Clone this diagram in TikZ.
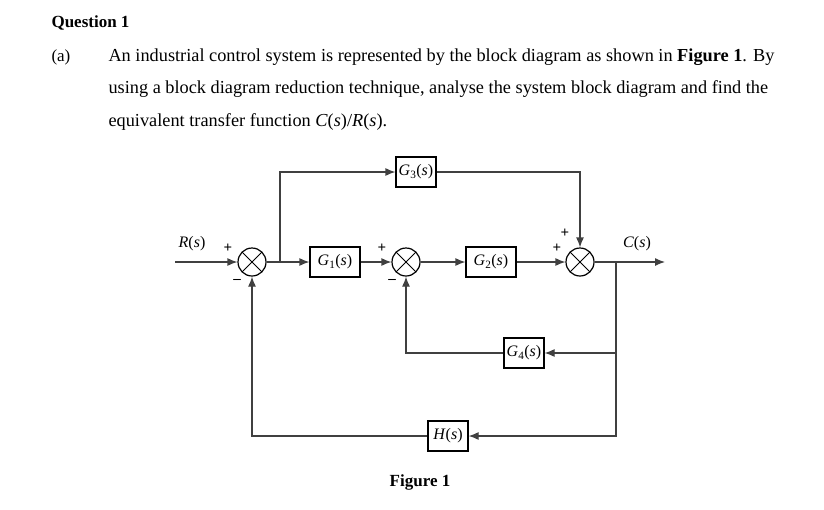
\documentclass[tikz,border=0pt]{standalone}
\usepackage{fontspec}
\setmainfont{Liberation Serif}
\usetikzlibrary{arrows.meta}
\begin{document}
\begin{tikzpicture}[x=1pt,y=-1pt,
  blk/.style={draw,line width=1.2pt,minimum width=40pt,minimum height=30pt,inner sep=1pt,font=\fontsize{16}{16}\selectfont},
  sm/.style={draw,circle,line width=1.2pt,minimum size=28pt,inner sep=0pt,path picture={\draw[line width=1pt] (path picture bounding box.south west)--(path picture bounding box.north east) (path picture bounding box.north west)--(path picture bounding box.south east);}},
  ln/.style={line width=1.2pt,draw=black!75},
  ar/.style={ln,-{Latex[length=10pt,width=8pt]}},
  lab/.style={font=\fontsize{16}{16}\selectfont},
  sg/.style={font=\fontsize{15}{15}\selectfont\bfseries}]
\useasboundingbox (0,0) rectangle (824,509);
\node[anchor=base west,font=\fontsize{17}{17}\selectfont\bfseries] (q) at (48,27) {Question 1};
\node[anchor=base west,font=\fontsize{17}{17}\selectfont] (a) at (48,61) {(a)};
\node[anchor=base west,font=\fontsize{18.3}{18}\selectfont] (l1) at (105,61) {An industrial control system is represented by the block diagram as shown in \textbf{Figure 1}. By};
\node[anchor=base west,font=\fontsize{18.3}{18}\selectfont] (l2) at (105,93) {using a block diagram reduction technique, analyse the system block diagram and find the};
\node[anchor=base west,font=\fontsize{18.3}{18}\selectfont] (l3) at (105,126) {equivalent transfer function \textit{C}(\textit{s})/\textit{R}(\textit{s}).};

\node[sm] (s1) at (252,262) {};
\node[sm] (s2) at (406,262) {};
\node[sm] (s3) at (580,262) {};
\node[blk,minimum width=50pt] (g1) at (335,262) {\textit{G}\textsubscript{1}(\textit{s})};
\node[blk,minimum width=50pt] (g2) at (491,262) {\textit{G}\textsubscript{2}(\textit{s})};
\node[blk] (g3) at (416,172) {\textit{G}\textsubscript{3}(\textit{s})};
\node[blk] (g4) at (524,353) {\textit{G}\textsubscript{4}(\textit{s})};
\node[blk] (h) at (448,436) {\textit{H}(\textit{s})};
\coordinate (in) at (175,262);
\coordinate (out) at (665,262);
\coordinate (b1) at (280,262);
\coordinate (b2) at (616,262);

\node[lab] (rl) at (192,244) {\textit{R}(\textit{s})};
\node[lab] (cl) at (637,244) {\textit{C}(\textit{s})};
\draw[ar] (in)--(s1);
\draw[ar] (s1)--(g1);
\draw[ar] (b1)|-(g3);
\draw[ar] (g3)-|(s3);
\draw[ar] (g1)--(s2);
\draw[ar] (s2)--(g2);
\draw[ar] (g2)--(s3);
\draw[ar] (s3)--(out);
\draw[ar] (b2)|-(g4);
\draw[ar] (g4)-|(s2);
\draw[ar] (b2)|-(h);
\draw[ar] (h)-|(s1);
\node[sg] (p1) at (228,248) {+};
\node[sg] (m1) at (237,281) {\textendash};
\node[sg] (p2) at (382,248) {+};
\node[sg] (m2) at (392,281) {\textendash};
\node[sg] (p3) at (557,248) {+};
\node[sg] (p4) at (565,233) {+};
\node[anchor=base,font=\fontsize{17}{17}\selectfont\bfseries] (fig) at (420,486) {Figure 1};
\end{tikzpicture}
\end{document}
